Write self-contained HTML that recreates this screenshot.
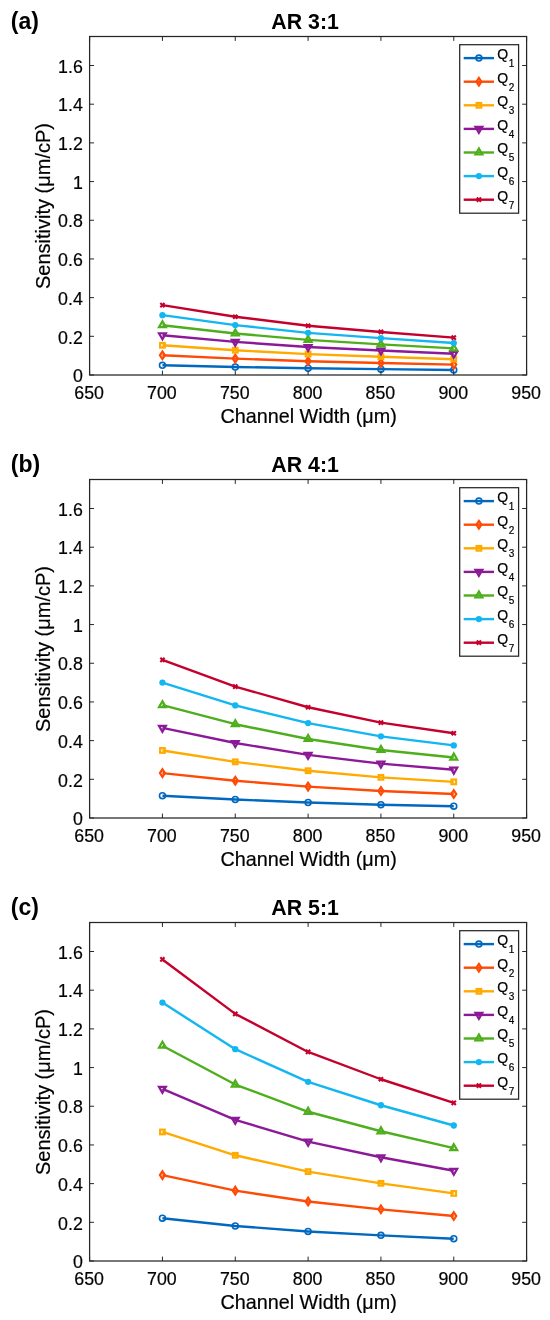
<!DOCTYPE html>
<html><head><meta charset="utf-8"><title>Sensitivity vs Channel Width</title>
<style>
html,body{margin:0;padding:0;background:#fff;}
body{width:550px;height:1320px;overflow:hidden;}
svg{display:block;}
text{font-family:"Liberation Sans", Arial, Helvetica, sans-serif;fill:#000;stroke:#000;stroke-width:0.2px;}
.tt,.pl{stroke:none;}
.tk{font-size:17.8px;}
.lb{font-size:19.8px;}
.tt{font-size:22px;font-weight:bold;}
.pl{font-size:23px;font-weight:bold;}
.lg{font-size:14px;}
.sb{font-size:10px;}
</style></head><body>
<svg width="550" height="1320" viewBox="0 0 550 1320">
<rect x="0" y="0" width="550" height="1320" fill="#fff"/>

<g>
<text class="pl" x="10.8" y="28.9">(a)</text>
<text class="tt" transform="translate(305.1,29.0) scale(0.97,1)" text-anchor="middle">AR 3:1</text>
<path d="M162.43,365.32 L235.27,366.98 L308.10,368.26 L380.93,369.15 L453.77,369.96" fill="none" stroke="#0068BE" stroke-width="2.4" stroke-linejoin="round"/>
<circle cx="162.43" cy="365.32" r="2.95" fill="none" stroke="#0068BE" stroke-width="1.6"/>
<circle cx="235.27" cy="366.98" r="2.95" fill="none" stroke="#0068BE" stroke-width="1.6"/>
<circle cx="308.10" cy="368.26" r="2.95" fill="none" stroke="#0068BE" stroke-width="1.6"/>
<circle cx="380.93" cy="369.15" r="2.95" fill="none" stroke="#0068BE" stroke-width="1.6"/>
<circle cx="453.77" cy="369.96" r="2.95" fill="none" stroke="#0068BE" stroke-width="1.6"/>
<path d="M162.43,355.29 L235.27,358.61 L308.10,361.18 L380.93,362.95 L453.77,364.58" fill="none" stroke="#FF4A06" stroke-width="2.4" stroke-linejoin="round"/>
<path d="M162.43,351.49L164.93,355.29L162.43,359.09L159.93,355.29Z" fill="none" stroke="#FF4A06" stroke-width="2.2" stroke-linejoin="miter" stroke-miterlimit="10"/>
<path d="M235.27,354.81L237.77,358.61L235.27,362.41L232.77,358.61Z" fill="none" stroke="#FF4A06" stroke-width="2.2" stroke-linejoin="miter" stroke-miterlimit="10"/>
<path d="M308.10,357.38L310.60,361.18L308.10,364.98L305.60,361.18Z" fill="none" stroke="#FF4A06" stroke-width="2.2" stroke-linejoin="miter" stroke-miterlimit="10"/>
<path d="M380.93,359.15L383.43,362.95L380.93,366.75L378.43,362.95Z" fill="none" stroke="#FF4A06" stroke-width="2.2" stroke-linejoin="miter" stroke-miterlimit="10"/>
<path d="M453.77,360.78L456.27,364.58L453.77,368.38L451.27,364.58Z" fill="none" stroke="#FF4A06" stroke-width="2.2" stroke-linejoin="miter" stroke-miterlimit="10"/>
<path d="M162.43,345.26 L235.27,350.24 L308.10,354.09 L380.93,356.75 L453.77,359.19" fill="none" stroke="#FFAA00" stroke-width="2.4" stroke-linejoin="round"/>
<rect x="160.13" y="342.96" width="4.6" height="4.6" fill="none" stroke="#FFAA00" stroke-width="2.2"/>
<rect x="232.97" y="347.94" width="4.6" height="4.6" fill="none" stroke="#FFAA00" stroke-width="2.2"/>
<rect x="305.80" y="351.79" width="4.6" height="4.6" fill="none" stroke="#FFAA00" stroke-width="2.2"/>
<rect x="378.63" y="354.45" width="4.6" height="4.6" fill="none" stroke="#FFAA00" stroke-width="2.2"/>
<rect x="451.47" y="356.89" width="4.6" height="4.6" fill="none" stroke="#FFAA00" stroke-width="2.2"/>
<path d="M162.43,335.24 L235.27,341.86 L308.10,347.01 L380.93,350.55 L453.77,353.81" fill="none" stroke="#8C1A98" stroke-width="2.4" stroke-linejoin="round"/>
<path d="M162.43,339.24L158.97,333.24L165.90,333.24Z" fill="none" stroke="#8C1A98" stroke-width="2.2" stroke-linejoin="miter" stroke-miterlimit="10"/>
<path d="M235.27,345.86L231.80,339.86L238.73,339.86Z" fill="none" stroke="#8C1A98" stroke-width="2.2" stroke-linejoin="miter" stroke-miterlimit="10"/>
<path d="M308.10,351.01L304.64,345.01L311.56,345.01Z" fill="none" stroke="#8C1A98" stroke-width="2.2" stroke-linejoin="miter" stroke-miterlimit="10"/>
<path d="M380.93,354.55L377.47,348.55L384.40,348.55Z" fill="none" stroke="#8C1A98" stroke-width="2.2" stroke-linejoin="miter" stroke-miterlimit="10"/>
<path d="M453.77,357.81L450.30,351.81L457.23,351.81Z" fill="none" stroke="#8C1A98" stroke-width="2.2" stroke-linejoin="miter" stroke-miterlimit="10"/>
<path d="M162.43,325.21 L235.27,333.49 L308.10,339.92 L380.93,344.35 L453.77,348.42" fill="none" stroke="#4EAE1C" stroke-width="2.4" stroke-linejoin="round"/>
<path d="M162.43,321.21L158.97,327.21L165.90,327.21Z" fill="none" stroke="#4EAE1C" stroke-width="2.2" stroke-linejoin="miter" stroke-miterlimit="10"/>
<path d="M235.27,329.49L231.80,335.49L238.73,335.49Z" fill="none" stroke="#4EAE1C" stroke-width="2.2" stroke-linejoin="miter" stroke-miterlimit="10"/>
<path d="M308.10,335.92L304.64,341.92L311.56,341.92Z" fill="none" stroke="#4EAE1C" stroke-width="2.2" stroke-linejoin="miter" stroke-miterlimit="10"/>
<path d="M380.93,340.35L377.47,346.35L384.40,346.35Z" fill="none" stroke="#4EAE1C" stroke-width="2.2" stroke-linejoin="miter" stroke-miterlimit="10"/>
<path d="M453.77,344.42L450.30,350.42L457.23,350.42Z" fill="none" stroke="#4EAE1C" stroke-width="2.2" stroke-linejoin="miter" stroke-miterlimit="10"/>
<path d="M162.43,315.18 L235.27,325.12 L308.10,332.84 L380.93,338.15 L453.77,343.04" fill="none" stroke="#12B6F0" stroke-width="2.4" stroke-linejoin="round"/>
<circle cx="162.43" cy="315.18" r="3.15" fill="#12B6F0"/>
<circle cx="235.27" cy="325.12" r="3.15" fill="#12B6F0"/>
<circle cx="308.10" cy="332.84" r="3.15" fill="#12B6F0"/>
<circle cx="380.93" cy="338.15" r="3.15" fill="#12B6F0"/>
<circle cx="453.77" cy="343.04" r="3.15" fill="#12B6F0"/>
<path d="M162.43,305.15 L235.27,316.75 L308.10,325.75 L380.93,331.95 L453.77,337.65" fill="none" stroke="#C5002C" stroke-width="2.4" stroke-linejoin="round"/>
<path d="M160.33,303.05L164.53,307.25M160.33,307.25L164.53,303.05" stroke="#C5002C" stroke-width="2.1" fill="none"/>
<path d="M233.17,314.65L237.37,318.85M233.17,318.85L237.37,314.65" stroke="#C5002C" stroke-width="2.1" fill="none"/>
<path d="M306.00,323.65L310.20,327.85M306.00,327.85L310.20,323.65" stroke="#C5002C" stroke-width="2.1" fill="none"/>
<path d="M378.83,329.85L383.03,334.05M378.83,334.05L383.03,329.85" stroke="#C5002C" stroke-width="2.1" fill="none"/>
<path d="M451.67,335.55L455.87,339.75M451.67,339.75L455.87,335.55" stroke="#C5002C" stroke-width="2.1" fill="none"/>
<rect x="89.6" y="36.5" width="437.0" height="338.5" fill="none" stroke="#262626" stroke-width="1.25"/>
<path d="M89.60,375.00V370.60M89.60,36.50V40.90M162.43,375.00V370.60M162.43,36.50V40.90M235.27,375.00V370.60M235.27,36.50V40.90M308.10,375.00V370.60M308.10,36.50V40.90M380.93,375.00V370.60M380.93,36.50V40.90M453.77,375.00V370.60M453.77,36.50V40.90M526.60,375.00V370.60M526.60,36.50V40.90M89.60,375.00H94.00M526.60,375.00H522.20M89.60,336.31H94.00M526.60,336.31H522.20M89.60,297.63H94.00M526.60,297.63H522.20M89.60,258.94H94.00M526.60,258.94H522.20M89.60,220.26H94.00M526.60,220.26H522.20M89.60,181.57H94.00M526.60,181.57H522.20M89.60,142.89H94.00M526.60,142.89H522.20M89.60,104.20H94.00M526.60,104.20H522.20M89.60,65.51H94.00M526.60,65.51H522.20" stroke="#262626" stroke-width="1" fill="none"/>
<text class="tk" x="89.10" y="398.6" text-anchor="middle">650</text>
<text class="tk" x="161.93" y="398.6" text-anchor="middle">700</text>
<text class="tk" x="234.77" y="398.6" text-anchor="middle">750</text>
<text class="tk" x="307.60" y="398.6" text-anchor="middle">800</text>
<text class="tk" x="380.43" y="398.6" text-anchor="middle">850</text>
<text class="tk" x="453.27" y="398.6" text-anchor="middle">900</text>
<text class="tk" x="526.10" y="398.6" text-anchor="middle">950</text>
<text class="tk" x="82.8" y="382.20" text-anchor="end">0</text>
<text class="tk" x="82.8" y="343.51" text-anchor="end">0.2</text>
<text class="tk" x="82.8" y="304.83" text-anchor="end">0.4</text>
<text class="tk" x="82.8" y="266.14" text-anchor="end">0.6</text>
<text class="tk" x="82.8" y="227.46" text-anchor="end">0.8</text>
<text class="tk" x="82.8" y="188.77" text-anchor="end">1</text>
<text class="tk" x="82.8" y="150.09" text-anchor="end">1.2</text>
<text class="tk" x="82.8" y="111.40" text-anchor="end">1.4</text>
<text class="tk" x="82.8" y="72.71" text-anchor="end">1.6</text>
<text class="lb" x="308.6" y="422.6" text-anchor="middle">Channel Width (μm)</text>
<text class="lb" transform="translate(50.0,206.0) rotate(-90)" text-anchor="middle" style="font-size:20px">Sensitivity (μm/cP)</text>
<rect x="459.7" y="44.7" width="58.9" height="168.5" fill="#fff" stroke="#262626" stroke-width="1.25"/>
<path d="M463.7,58.10H494" stroke="#0068BE" stroke-width="2.4"/>
<circle cx="478.90" cy="58.10" r="2.95" fill="none" stroke="#0068BE" stroke-width="1.6"/>
<text class="lg" x="497.3" y="59.00">Q</text><text class="sb" x="508.7" y="67.00">1</text>
<path d="M463.7,81.70H494" stroke="#FF4A06" stroke-width="2.4"/>
<path d="M478.90,77.90L481.40,81.70L478.90,85.50L476.40,81.70Z" fill="none" stroke="#FF4A06" stroke-width="2.2" stroke-linejoin="miter" stroke-miterlimit="10"/>
<text class="lg" x="497.3" y="82.60">Q</text><text class="sb" x="508.7" y="90.60">2</text>
<path d="M463.7,105.30H494" stroke="#FFAA00" stroke-width="2.4"/>
<rect x="476.60" y="103.00" width="4.6" height="4.6" fill="none" stroke="#FFAA00" stroke-width="2.2"/>
<text class="lg" x="497.3" y="106.20">Q</text><text class="sb" x="508.7" y="114.20">3</text>
<path d="M463.7,128.90H494" stroke="#8C1A98" stroke-width="2.4"/>
<path d="M478.90,132.90L475.44,126.90L482.36,126.90Z" fill="none" stroke="#8C1A98" stroke-width="2.2" stroke-linejoin="miter" stroke-miterlimit="10"/>
<text class="lg" x="497.3" y="129.80">Q</text><text class="sb" x="508.7" y="137.80">4</text>
<path d="M463.7,152.50H494" stroke="#4EAE1C" stroke-width="2.4"/>
<path d="M478.90,148.50L475.44,154.50L482.36,154.50Z" fill="none" stroke="#4EAE1C" stroke-width="2.2" stroke-linejoin="miter" stroke-miterlimit="10"/>
<text class="lg" x="497.3" y="153.40">Q</text><text class="sb" x="508.7" y="161.40">5</text>
<path d="M463.7,176.10H494" stroke="#12B6F0" stroke-width="2.4"/>
<circle cx="478.90" cy="176.10" r="3.15" fill="#12B6F0"/>
<text class="lg" x="497.3" y="177.00">Q</text><text class="sb" x="508.7" y="185.00">6</text>
<path d="M463.7,199.70H494" stroke="#C5002C" stroke-width="2.4"/>
<path d="M476.80,197.60L481.00,201.80M476.80,201.80L481.00,197.60" stroke="#C5002C" stroke-width="2.1" fill="none"/>
<text class="lg" x="497.3" y="200.60">Q</text><text class="sb" x="508.7" y="208.60">7</text>
</g>
<g>
<text class="pl" x="10.8" y="471.9">(b)</text>
<text class="tt" transform="translate(305.1,472.0) scale(0.97,1)" text-anchor="middle">AR 4:1</text>
<path d="M162.43,795.72 L235.27,799.52 L308.10,802.48 L380.93,804.68 L453.77,806.19" fill="none" stroke="#0068BE" stroke-width="2.4" stroke-linejoin="round"/>
<circle cx="162.43" cy="795.72" r="2.95" fill="none" stroke="#0068BE" stroke-width="1.6"/>
<circle cx="235.27" cy="799.52" r="2.95" fill="none" stroke="#0068BE" stroke-width="1.6"/>
<circle cx="308.10" cy="802.48" r="2.95" fill="none" stroke="#0068BE" stroke-width="1.6"/>
<circle cx="380.93" cy="804.68" r="2.95" fill="none" stroke="#0068BE" stroke-width="1.6"/>
<circle cx="453.77" cy="806.19" r="2.95" fill="none" stroke="#0068BE" stroke-width="1.6"/>
<path d="M162.43,773.09 L235.27,780.69 L308.10,786.61 L380.93,791.01 L453.77,794.04" fill="none" stroke="#FF4A06" stroke-width="2.4" stroke-linejoin="round"/>
<path d="M162.43,769.29L164.93,773.09L162.43,776.89L159.93,773.09Z" fill="none" stroke="#FF4A06" stroke-width="2.2" stroke-linejoin="miter" stroke-miterlimit="10"/>
<path d="M235.27,776.89L237.77,780.69L235.27,784.49L232.77,780.69Z" fill="none" stroke="#FF4A06" stroke-width="2.2" stroke-linejoin="miter" stroke-miterlimit="10"/>
<path d="M308.10,782.81L310.60,786.61L308.10,790.41L305.60,786.61Z" fill="none" stroke="#FF4A06" stroke-width="2.2" stroke-linejoin="miter" stroke-miterlimit="10"/>
<path d="M380.93,787.21L383.43,791.01L380.93,794.81L378.43,791.01Z" fill="none" stroke="#FF4A06" stroke-width="2.2" stroke-linejoin="miter" stroke-miterlimit="10"/>
<path d="M453.77,790.24L456.27,794.04L453.77,797.84L451.27,794.04Z" fill="none" stroke="#FF4A06" stroke-width="2.2" stroke-linejoin="miter" stroke-miterlimit="10"/>
<path d="M162.43,750.46 L235.27,761.86 L308.10,770.74 L380.93,777.34 L453.77,781.88" fill="none" stroke="#FFAA00" stroke-width="2.4" stroke-linejoin="round"/>
<rect x="160.13" y="748.16" width="4.6" height="4.6" fill="none" stroke="#FFAA00" stroke-width="2.2"/>
<rect x="232.97" y="759.56" width="4.6" height="4.6" fill="none" stroke="#FFAA00" stroke-width="2.2"/>
<rect x="305.80" y="768.44" width="4.6" height="4.6" fill="none" stroke="#FFAA00" stroke-width="2.2"/>
<rect x="378.63" y="775.04" width="4.6" height="4.6" fill="none" stroke="#FFAA00" stroke-width="2.2"/>
<rect x="451.47" y="779.58" width="4.6" height="4.6" fill="none" stroke="#FFAA00" stroke-width="2.2"/>
<path d="M162.43,727.84 L235.27,743.04 L308.10,754.86 L380.93,763.66 L453.77,769.72" fill="none" stroke="#8C1A98" stroke-width="2.4" stroke-linejoin="round"/>
<path d="M162.43,731.84L158.97,725.84L165.90,725.84Z" fill="none" stroke="#8C1A98" stroke-width="2.2" stroke-linejoin="miter" stroke-miterlimit="10"/>
<path d="M235.27,747.04L231.80,741.04L238.73,741.04Z" fill="none" stroke="#8C1A98" stroke-width="2.2" stroke-linejoin="miter" stroke-miterlimit="10"/>
<path d="M308.10,758.86L304.64,752.86L311.56,752.86Z" fill="none" stroke="#8C1A98" stroke-width="2.2" stroke-linejoin="miter" stroke-miterlimit="10"/>
<path d="M380.93,767.66L377.47,761.66L384.40,761.66Z" fill="none" stroke="#8C1A98" stroke-width="2.2" stroke-linejoin="miter" stroke-miterlimit="10"/>
<path d="M453.77,773.72L450.30,767.72L457.23,767.72Z" fill="none" stroke="#8C1A98" stroke-width="2.2" stroke-linejoin="miter" stroke-miterlimit="10"/>
<path d="M162.43,705.21 L235.27,724.21 L308.10,738.99 L380.93,749.99 L453.77,757.56" fill="none" stroke="#4EAE1C" stroke-width="2.4" stroke-linejoin="round"/>
<path d="M162.43,701.21L158.97,707.21L165.90,707.21Z" fill="none" stroke="#4EAE1C" stroke-width="2.2" stroke-linejoin="miter" stroke-miterlimit="10"/>
<path d="M235.27,720.21L231.80,726.21L238.73,726.21Z" fill="none" stroke="#4EAE1C" stroke-width="2.2" stroke-linejoin="miter" stroke-miterlimit="10"/>
<path d="M308.10,734.99L304.64,740.99L311.56,740.99Z" fill="none" stroke="#4EAE1C" stroke-width="2.2" stroke-linejoin="miter" stroke-miterlimit="10"/>
<path d="M380.93,745.99L377.47,751.99L384.40,751.99Z" fill="none" stroke="#4EAE1C" stroke-width="2.2" stroke-linejoin="miter" stroke-miterlimit="10"/>
<path d="M453.77,753.56L450.30,759.56L457.23,759.56Z" fill="none" stroke="#4EAE1C" stroke-width="2.2" stroke-linejoin="miter" stroke-miterlimit="10"/>
<path d="M162.43,682.58 L235.27,705.38 L308.10,723.12 L380.93,736.32 L453.77,745.41" fill="none" stroke="#12B6F0" stroke-width="2.4" stroke-linejoin="round"/>
<circle cx="162.43" cy="682.58" r="3.15" fill="#12B6F0"/>
<circle cx="235.27" cy="705.38" r="3.15" fill="#12B6F0"/>
<circle cx="308.10" cy="723.12" r="3.15" fill="#12B6F0"/>
<circle cx="380.93" cy="736.32" r="3.15" fill="#12B6F0"/>
<circle cx="453.77" cy="745.41" r="3.15" fill="#12B6F0"/>
<path d="M162.43,659.95 L235.27,686.55 L308.10,707.25 L380.93,722.65 L453.77,733.25" fill="none" stroke="#C5002C" stroke-width="2.4" stroke-linejoin="round"/>
<path d="M160.33,657.85L164.53,662.05M160.33,662.05L164.53,657.85" stroke="#C5002C" stroke-width="2.1" fill="none"/>
<path d="M233.17,684.45L237.37,688.65M233.17,688.65L237.37,684.45" stroke="#C5002C" stroke-width="2.1" fill="none"/>
<path d="M306.00,705.15L310.20,709.35M306.00,709.35L310.20,705.15" stroke="#C5002C" stroke-width="2.1" fill="none"/>
<path d="M378.83,720.55L383.03,724.75M378.83,724.75L383.03,720.55" stroke="#C5002C" stroke-width="2.1" fill="none"/>
<path d="M451.67,731.15L455.87,735.35M451.67,735.35L455.87,731.15" stroke="#C5002C" stroke-width="2.1" fill="none"/>
<rect x="89.6" y="479.5" width="437.0" height="338.5" fill="none" stroke="#262626" stroke-width="1.25"/>
<path d="M89.60,818.00V813.60M89.60,479.50V483.90M162.43,818.00V813.60M162.43,479.50V483.90M235.27,818.00V813.60M235.27,479.50V483.90M308.10,818.00V813.60M308.10,479.50V483.90M380.93,818.00V813.60M380.93,479.50V483.90M453.77,818.00V813.60M453.77,479.50V483.90M526.60,818.00V813.60M526.60,479.50V483.90M89.60,818.00H94.00M526.60,818.00H522.20M89.60,779.31H94.00M526.60,779.31H522.20M89.60,740.63H94.00M526.60,740.63H522.20M89.60,701.94H94.00M526.60,701.94H522.20M89.60,663.26H94.00M526.60,663.26H522.20M89.60,624.57H94.00M526.60,624.57H522.20M89.60,585.89H94.00M526.60,585.89H522.20M89.60,547.20H94.00M526.60,547.20H522.20M89.60,508.51H94.00M526.60,508.51H522.20" stroke="#262626" stroke-width="1" fill="none"/>
<text class="tk" x="89.10" y="841.6" text-anchor="middle">650</text>
<text class="tk" x="161.93" y="841.6" text-anchor="middle">700</text>
<text class="tk" x="234.77" y="841.6" text-anchor="middle">750</text>
<text class="tk" x="307.60" y="841.6" text-anchor="middle">800</text>
<text class="tk" x="380.43" y="841.6" text-anchor="middle">850</text>
<text class="tk" x="453.27" y="841.6" text-anchor="middle">900</text>
<text class="tk" x="526.10" y="841.6" text-anchor="middle">950</text>
<text class="tk" x="82.8" y="825.20" text-anchor="end">0</text>
<text class="tk" x="82.8" y="786.51" text-anchor="end">0.2</text>
<text class="tk" x="82.8" y="747.83" text-anchor="end">0.4</text>
<text class="tk" x="82.8" y="709.14" text-anchor="end">0.6</text>
<text class="tk" x="82.8" y="670.46" text-anchor="end">0.8</text>
<text class="tk" x="82.8" y="631.77" text-anchor="end">1</text>
<text class="tk" x="82.8" y="593.09" text-anchor="end">1.2</text>
<text class="tk" x="82.8" y="554.40" text-anchor="end">1.4</text>
<text class="tk" x="82.8" y="515.71" text-anchor="end">1.6</text>
<text class="lb" x="308.6" y="865.6" text-anchor="middle">Channel Width (μm)</text>
<text class="lb" transform="translate(50.0,649.0) rotate(-90)" text-anchor="middle" style="font-size:20px">Sensitivity (μm/cP)</text>
<rect x="459.7" y="487.7" width="58.9" height="168.5" fill="#fff" stroke="#262626" stroke-width="1.25"/>
<path d="M463.7,501.10H494" stroke="#0068BE" stroke-width="2.4"/>
<circle cx="478.90" cy="501.10" r="2.95" fill="none" stroke="#0068BE" stroke-width="1.6"/>
<text class="lg" x="497.3" y="502.00">Q</text><text class="sb" x="508.7" y="510.00">1</text>
<path d="M463.7,524.70H494" stroke="#FF4A06" stroke-width="2.4"/>
<path d="M478.90,520.90L481.40,524.70L478.90,528.50L476.40,524.70Z" fill="none" stroke="#FF4A06" stroke-width="2.2" stroke-linejoin="miter" stroke-miterlimit="10"/>
<text class="lg" x="497.3" y="525.60">Q</text><text class="sb" x="508.7" y="533.60">2</text>
<path d="M463.7,548.30H494" stroke="#FFAA00" stroke-width="2.4"/>
<rect x="476.60" y="546.00" width="4.6" height="4.6" fill="none" stroke="#FFAA00" stroke-width="2.2"/>
<text class="lg" x="497.3" y="549.20">Q</text><text class="sb" x="508.7" y="557.20">3</text>
<path d="M463.7,571.90H494" stroke="#8C1A98" stroke-width="2.4"/>
<path d="M478.90,575.90L475.44,569.90L482.36,569.90Z" fill="none" stroke="#8C1A98" stroke-width="2.2" stroke-linejoin="miter" stroke-miterlimit="10"/>
<text class="lg" x="497.3" y="572.80">Q</text><text class="sb" x="508.7" y="580.80">4</text>
<path d="M463.7,595.50H494" stroke="#4EAE1C" stroke-width="2.4"/>
<path d="M478.90,591.50L475.44,597.50L482.36,597.50Z" fill="none" stroke="#4EAE1C" stroke-width="2.2" stroke-linejoin="miter" stroke-miterlimit="10"/>
<text class="lg" x="497.3" y="596.40">Q</text><text class="sb" x="508.7" y="604.40">5</text>
<path d="M463.7,619.10H494" stroke="#12B6F0" stroke-width="2.4"/>
<circle cx="478.90" cy="619.10" r="3.15" fill="#12B6F0"/>
<text class="lg" x="497.3" y="620.00">Q</text><text class="sb" x="508.7" y="628.00">6</text>
<path d="M463.7,642.70H494" stroke="#C5002C" stroke-width="2.4"/>
<path d="M476.80,640.60L481.00,644.80M476.80,644.80L481.00,640.60" stroke="#C5002C" stroke-width="2.1" fill="none"/>
<text class="lg" x="497.3" y="643.60">Q</text><text class="sb" x="508.7" y="651.60">7</text>
</g>
<g>
<text class="pl" x="10.8" y="914.9">(c)</text>
<text class="tt" transform="translate(305.1,915.0) scale(0.97,1)" text-anchor="middle">AR 5:1</text>
<path d="M162.43,1218.22 L235.27,1225.99 L308.10,1231.44 L380.93,1235.34 L453.77,1238.71" fill="none" stroke="#0068BE" stroke-width="2.4" stroke-linejoin="round"/>
<circle cx="162.43" cy="1218.22" r="2.95" fill="none" stroke="#0068BE" stroke-width="1.6"/>
<circle cx="235.27" cy="1225.99" r="2.95" fill="none" stroke="#0068BE" stroke-width="1.6"/>
<circle cx="308.10" cy="1231.44" r="2.95" fill="none" stroke="#0068BE" stroke-width="1.6"/>
<circle cx="380.93" cy="1235.34" r="2.95" fill="none" stroke="#0068BE" stroke-width="1.6"/>
<circle cx="453.77" cy="1238.71" r="2.95" fill="none" stroke="#0068BE" stroke-width="1.6"/>
<path d="M162.43,1175.09 L235.27,1190.64 L308.10,1201.52 L380.93,1209.32 L453.77,1216.06" fill="none" stroke="#FF4A06" stroke-width="2.4" stroke-linejoin="round"/>
<path d="M162.43,1171.29L164.93,1175.09L162.43,1178.89L159.93,1175.09Z" fill="none" stroke="#FF4A06" stroke-width="2.2" stroke-linejoin="miter" stroke-miterlimit="10"/>
<path d="M235.27,1186.84L237.77,1190.64L235.27,1194.44L232.77,1190.64Z" fill="none" stroke="#FF4A06" stroke-width="2.2" stroke-linejoin="miter" stroke-miterlimit="10"/>
<path d="M308.10,1197.72L310.60,1201.52L308.10,1205.32L305.60,1201.52Z" fill="none" stroke="#FF4A06" stroke-width="2.2" stroke-linejoin="miter" stroke-miterlimit="10"/>
<path d="M380.93,1205.52L383.43,1209.32L380.93,1213.12L378.43,1209.32Z" fill="none" stroke="#FF4A06" stroke-width="2.2" stroke-linejoin="miter" stroke-miterlimit="10"/>
<path d="M453.77,1212.26L456.27,1216.06L453.77,1219.86L451.27,1216.06Z" fill="none" stroke="#FF4A06" stroke-width="2.2" stroke-linejoin="miter" stroke-miterlimit="10"/>
<path d="M162.43,1131.96 L235.27,1155.28 L308.10,1171.61 L380.93,1183.31 L453.77,1193.42" fill="none" stroke="#FFAA00" stroke-width="2.4" stroke-linejoin="round"/>
<rect x="160.13" y="1129.66" width="4.6" height="4.6" fill="none" stroke="#FFAA00" stroke-width="2.2"/>
<rect x="232.97" y="1152.98" width="4.6" height="4.6" fill="none" stroke="#FFAA00" stroke-width="2.2"/>
<rect x="305.80" y="1169.31" width="4.6" height="4.6" fill="none" stroke="#FFAA00" stroke-width="2.2"/>
<rect x="378.63" y="1181.01" width="4.6" height="4.6" fill="none" stroke="#FFAA00" stroke-width="2.2"/>
<rect x="451.47" y="1191.12" width="4.6" height="4.6" fill="none" stroke="#FFAA00" stroke-width="2.2"/>
<path d="M162.43,1088.84 L235.27,1119.92 L308.10,1141.69 L380.93,1157.29 L453.77,1170.78" fill="none" stroke="#8C1A98" stroke-width="2.4" stroke-linejoin="round"/>
<path d="M162.43,1092.84L158.97,1086.84L165.90,1086.84Z" fill="none" stroke="#8C1A98" stroke-width="2.2" stroke-linejoin="miter" stroke-miterlimit="10"/>
<path d="M235.27,1123.92L231.80,1117.92L238.73,1117.92Z" fill="none" stroke="#8C1A98" stroke-width="2.2" stroke-linejoin="miter" stroke-miterlimit="10"/>
<path d="M308.10,1145.69L304.64,1139.69L311.56,1139.69Z" fill="none" stroke="#8C1A98" stroke-width="2.2" stroke-linejoin="miter" stroke-miterlimit="10"/>
<path d="M380.93,1161.29L377.47,1155.29L384.40,1155.29Z" fill="none" stroke="#8C1A98" stroke-width="2.2" stroke-linejoin="miter" stroke-miterlimit="10"/>
<path d="M453.77,1174.78L450.30,1168.78L457.23,1168.78Z" fill="none" stroke="#8C1A98" stroke-width="2.2" stroke-linejoin="miter" stroke-miterlimit="10"/>
<path d="M162.43,1045.71 L235.27,1084.56 L308.10,1111.78 L380.93,1131.28 L453.77,1148.14" fill="none" stroke="#4EAE1C" stroke-width="2.4" stroke-linejoin="round"/>
<path d="M162.43,1041.71L158.97,1047.71L165.90,1047.71Z" fill="none" stroke="#4EAE1C" stroke-width="2.2" stroke-linejoin="miter" stroke-miterlimit="10"/>
<path d="M235.27,1080.56L231.80,1086.56L238.73,1086.56Z" fill="none" stroke="#4EAE1C" stroke-width="2.2" stroke-linejoin="miter" stroke-miterlimit="10"/>
<path d="M308.10,1107.78L304.64,1113.78L311.56,1113.78Z" fill="none" stroke="#4EAE1C" stroke-width="2.2" stroke-linejoin="miter" stroke-miterlimit="10"/>
<path d="M380.93,1127.28L377.47,1133.28L384.40,1133.28Z" fill="none" stroke="#4EAE1C" stroke-width="2.2" stroke-linejoin="miter" stroke-miterlimit="10"/>
<path d="M453.77,1144.14L450.30,1150.14L457.23,1150.14Z" fill="none" stroke="#4EAE1C" stroke-width="2.2" stroke-linejoin="miter" stroke-miterlimit="10"/>
<path d="M162.43,1002.58 L235.27,1049.21 L308.10,1081.86 L380.93,1105.26 L453.77,1125.49" fill="none" stroke="#12B6F0" stroke-width="2.4" stroke-linejoin="round"/>
<circle cx="162.43" cy="1002.58" r="3.15" fill="#12B6F0"/>
<circle cx="235.27" cy="1049.21" r="3.15" fill="#12B6F0"/>
<circle cx="308.10" cy="1081.86" r="3.15" fill="#12B6F0"/>
<circle cx="380.93" cy="1105.26" r="3.15" fill="#12B6F0"/>
<circle cx="453.77" cy="1125.49" r="3.15" fill="#12B6F0"/>
<path d="M162.43,959.45 L235.27,1013.85 L308.10,1051.95 L380.93,1079.25 L453.77,1102.85" fill="none" stroke="#C5002C" stroke-width="2.4" stroke-linejoin="round"/>
<path d="M160.33,957.35L164.53,961.55M160.33,961.55L164.53,957.35" stroke="#C5002C" stroke-width="2.1" fill="none"/>
<path d="M233.17,1011.75L237.37,1015.95M233.17,1015.95L237.37,1011.75" stroke="#C5002C" stroke-width="2.1" fill="none"/>
<path d="M306.00,1049.85L310.20,1054.05M306.00,1054.05L310.20,1049.85" stroke="#C5002C" stroke-width="2.1" fill="none"/>
<path d="M378.83,1077.15L383.03,1081.35M378.83,1081.35L383.03,1077.15" stroke="#C5002C" stroke-width="2.1" fill="none"/>
<path d="M451.67,1100.75L455.87,1104.95M451.67,1104.95L455.87,1100.75" stroke="#C5002C" stroke-width="2.1" fill="none"/>
<rect x="89.6" y="922.5" width="437.0" height="338.5" fill="none" stroke="#262626" stroke-width="1.25"/>
<path d="M89.60,1261.00V1256.60M89.60,922.50V926.90M162.43,1261.00V1256.60M162.43,922.50V926.90M235.27,1261.00V1256.60M235.27,922.50V926.90M308.10,1261.00V1256.60M308.10,922.50V926.90M380.93,1261.00V1256.60M380.93,922.50V926.90M453.77,1261.00V1256.60M453.77,922.50V926.90M526.60,1261.00V1256.60M526.60,922.50V926.90M89.60,1261.00H94.00M526.60,1261.00H522.20M89.60,1222.31H94.00M526.60,1222.31H522.20M89.60,1183.63H94.00M526.60,1183.63H522.20M89.60,1144.94H94.00M526.60,1144.94H522.20M89.60,1106.26H94.00M526.60,1106.26H522.20M89.60,1067.57H94.00M526.60,1067.57H522.20M89.60,1028.89H94.00M526.60,1028.89H522.20M89.60,990.20H94.00M526.60,990.20H522.20M89.60,951.51H94.00M526.60,951.51H522.20" stroke="#262626" stroke-width="1" fill="none"/>
<text class="tk" x="89.10" y="1284.6" text-anchor="middle">650</text>
<text class="tk" x="161.93" y="1284.6" text-anchor="middle">700</text>
<text class="tk" x="234.77" y="1284.6" text-anchor="middle">750</text>
<text class="tk" x="307.60" y="1284.6" text-anchor="middle">800</text>
<text class="tk" x="380.43" y="1284.6" text-anchor="middle">850</text>
<text class="tk" x="453.27" y="1284.6" text-anchor="middle">900</text>
<text class="tk" x="526.10" y="1284.6" text-anchor="middle">950</text>
<text class="tk" x="82.8" y="1268.20" text-anchor="end">0</text>
<text class="tk" x="82.8" y="1229.51" text-anchor="end">0.2</text>
<text class="tk" x="82.8" y="1190.83" text-anchor="end">0.4</text>
<text class="tk" x="82.8" y="1152.14" text-anchor="end">0.6</text>
<text class="tk" x="82.8" y="1113.46" text-anchor="end">0.8</text>
<text class="tk" x="82.8" y="1074.77" text-anchor="end">1</text>
<text class="tk" x="82.8" y="1036.09" text-anchor="end">1.2</text>
<text class="tk" x="82.8" y="997.40" text-anchor="end">1.4</text>
<text class="tk" x="82.8" y="958.71" text-anchor="end">1.6</text>
<text class="lb" x="308.6" y="1308.6" text-anchor="middle">Channel Width (μm)</text>
<text class="lb" transform="translate(50.0,1092.0) rotate(-90)" text-anchor="middle" style="font-size:20px">Sensitivity (μm/cP)</text>
<rect x="459.7" y="930.7" width="58.9" height="168.5" fill="#fff" stroke="#262626" stroke-width="1.25"/>
<path d="M463.7,944.10H494" stroke="#0068BE" stroke-width="2.4"/>
<circle cx="478.90" cy="944.10" r="2.95" fill="none" stroke="#0068BE" stroke-width="1.6"/>
<text class="lg" x="497.3" y="945.00">Q</text><text class="sb" x="508.7" y="953.00">1</text>
<path d="M463.7,967.70H494" stroke="#FF4A06" stroke-width="2.4"/>
<path d="M478.90,963.90L481.40,967.70L478.90,971.50L476.40,967.70Z" fill="none" stroke="#FF4A06" stroke-width="2.2" stroke-linejoin="miter" stroke-miterlimit="10"/>
<text class="lg" x="497.3" y="968.60">Q</text><text class="sb" x="508.7" y="976.60">2</text>
<path d="M463.7,991.30H494" stroke="#FFAA00" stroke-width="2.4"/>
<rect x="476.60" y="989.00" width="4.6" height="4.6" fill="none" stroke="#FFAA00" stroke-width="2.2"/>
<text class="lg" x="497.3" y="992.20">Q</text><text class="sb" x="508.7" y="1000.20">3</text>
<path d="M463.7,1014.90H494" stroke="#8C1A98" stroke-width="2.4"/>
<path d="M478.90,1018.90L475.44,1012.90L482.36,1012.90Z" fill="none" stroke="#8C1A98" stroke-width="2.2" stroke-linejoin="miter" stroke-miterlimit="10"/>
<text class="lg" x="497.3" y="1015.80">Q</text><text class="sb" x="508.7" y="1023.80">4</text>
<path d="M463.7,1038.50H494" stroke="#4EAE1C" stroke-width="2.4"/>
<path d="M478.90,1034.50L475.44,1040.50L482.36,1040.50Z" fill="none" stroke="#4EAE1C" stroke-width="2.2" stroke-linejoin="miter" stroke-miterlimit="10"/>
<text class="lg" x="497.3" y="1039.40">Q</text><text class="sb" x="508.7" y="1047.40">5</text>
<path d="M463.7,1062.10H494" stroke="#12B6F0" stroke-width="2.4"/>
<circle cx="478.90" cy="1062.10" r="3.15" fill="#12B6F0"/>
<text class="lg" x="497.3" y="1063.00">Q</text><text class="sb" x="508.7" y="1071.00">6</text>
<path d="M463.7,1085.70H494" stroke="#C5002C" stroke-width="2.4"/>
<path d="M476.80,1083.60L481.00,1087.80M476.80,1087.80L481.00,1083.60" stroke="#C5002C" stroke-width="2.1" fill="none"/>
<text class="lg" x="497.3" y="1086.60">Q</text><text class="sb" x="508.7" y="1094.60">7</text>
</g>
</svg>
</body></html>
